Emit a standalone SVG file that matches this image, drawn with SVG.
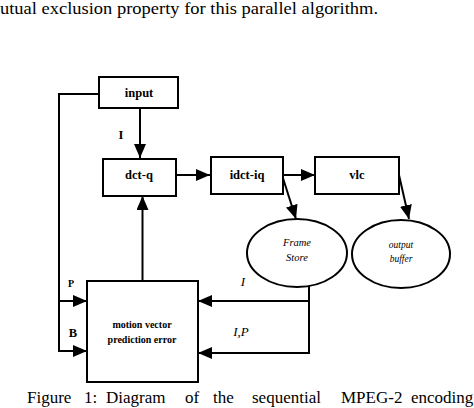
<svg xmlns="http://www.w3.org/2000/svg" width="474" height="408" viewBox="0 0 474 408">
<style>
.box{fill:#fff;stroke:#000;stroke-width:2}
.ln{fill:none;stroke:#000;stroke-width:2}
.lbl{font-family:"Liberation Serif",serif;font-weight:bold;font-size:12.5px;text-anchor:middle;fill:#000}
.sm{font-family:"Liberation Serif",serif;font-weight:bold;font-size:10px;text-anchor:middle;fill:#000}
.it{font-family:"Liberation Serif",serif;font-style:italic;font-size:10.5px;text-anchor:middle;fill:#000}
.body{font-family:"Liberation Serif",serif;font-size:17px;fill:#000}
</style>
<defs>
<marker id="ah" viewBox="0 0 14 12" refX="14" refY="6" markerWidth="14" markerHeight="12" markerUnits="userSpaceOnUse" orient="auto">
<path d="M0,0 L14,6 L0,12 Z" fill="#000"/>
</marker>
</defs>
<rect width="474" height="408" fill="#fff"/>
<text class="body" x="0" y="14" textLength="378" lengthAdjust="spacingAndGlyphs">utual exclusion property for this parallel algorithm.</text>
<g id="connectors">
<path class="ln" d="M140,108 V158" marker-end="url(#ah)"/>
<path class="ln" d="M176,175 H210" marker-end="url(#ah)"/>
<path class="ln" d="M283,175 H315" marker-end="url(#ah)"/>
<path class="ln" d="M282,175 L296,219" marker-end="url(#ah)"/>
<path class="ln" d="M399,175 L409,219" marker-end="url(#ah)"/>
<path class="ln" d="M142.5,281 V196" marker-end="url(#ah)"/>
<path class="ln" d="M99,94 H59 V351"/>
<path class="ln" d="M58,301 H87" marker-end="url(#ah)"/>
<path class="ln" d="M58,351 H87" marker-end="url(#ah)"/>
<path class="ln" d="M309,286 V353 H198"/>
<path class="ln" d="M310,301 H198" marker-end="url(#ah)"/>
<path class="ln" d="M300,353 H198" marker-end="url(#ah)"/>
<text class="lbl" x="121" y="139">I</text>
<text class="sm" x="71" y="287">P</text>
<text class="lbl" x="73" y="337">B</text>
<text class="it" x="243" y="286" style="font-size:13px">I</text>
<text class="it" x="241" y="336" style="font-size:13px">I,P</text>
</g>
<g id="input">
<rect class="box" x="99" y="77" width="79" height="31"/>
<text class="lbl" x="139" y="97">input</text>
</g>
<g id="dct-q">
<rect class="box" x="103" y="159" width="73" height="37"/>
<text class="lbl" x="139" y="179">dct-q</text>
</g>
<g id="idct-iq">
<rect class="box" x="211" y="157" width="72" height="37"/>
<text class="lbl" x="247" y="179">idct-iq</text>
</g>
<g id="vlc">
<rect class="box" x="315" y="157" width="84" height="37"/>
<text class="lbl" x="357" y="179">vlc</text>
</g>
<g id="frame-store">
<ellipse class="box" cx="297" cy="253" rx="50" ry="34"/>
<text class="it" x="297" y="246">Frame</text>
<text class="it" x="297" y="261">Store</text>
</g>
<g id="output-buffer">
<ellipse class="box" cx="401" cy="254" rx="49" ry="34"/>
<text class="it" x="401" y="248" style="font-size:9.5px">output</text>
<text class="it" x="401" y="262" style="font-size:9.5px">buffer</text>
</g>
<g id="motion-vector">
<rect class="box" x="87" y="281" width="111" height="101"/>
<text class="sm" x="142" y="328">motion  vector</text>
<text class="sm" x="142" y="343">prediction error</text>
</g>
<text class="body" y="403"><tspan x="27">Figure</tspan><tspan x="84">1:</tspan><tspan x="106">Diagram</tspan><tspan x="185">of</tspan><tspan x="213">the</tspan><tspan x="252">sequential</tspan><tspan x="341">MPEG-2</tspan><tspan x="411">encoding</tspan></text>
</svg>
